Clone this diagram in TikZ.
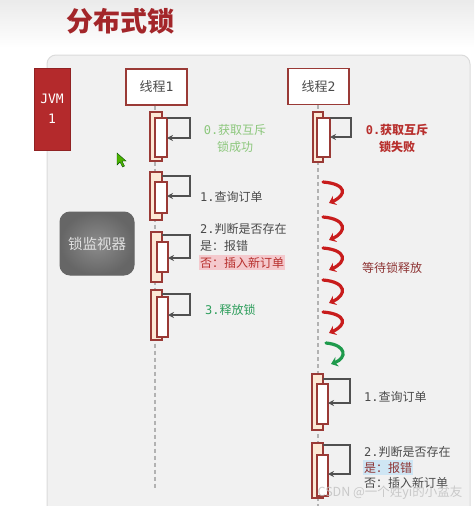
\documentclass[tikz,border=0pt]{standalone}
\usepackage{fontspec}
\setmainfont{Noto Sans CJK SC}
\newfontfamily\mono{DejaVu Sans Mono}
\usetikzlibrary{arrows.meta,calc}
\definecolor{titlered}{HTML}{A3262A}
\definecolor{jvmred}{HTML}{B42A2C}
\definecolor{boxred}{HTML}{9A3A36}
\definecolor{peach}{HTML}{FCE9D6}
\definecolor{panel}{HTML}{F1F1F1}
\definecolor{txtgray}{HTML}{4A4A4A}
\definecolor{lightgreen}{HTML}{8CC77C}
\definecolor{midgreen}{HTML}{2E9E5C}
\definecolor{failred}{HTML}{B8302E}
\definecolor{waitred}{HTML}{8E3434}
\definecolor{arrred}{HTML}{C81C1C}
\definecolor{arrgreen}{HTML}{1E9A4C}
\definecolor{pinkbg}{HTML}{F4C9CD}
\definecolor{bluebg}{HTML}{CFE6F4}
\definecolor{loopgray}{HTML}{505050}
\begin{document}
\begin{tikzpicture}[x=1pt,y=-1pt,
  threadbox/.style={draw=boxred,line width=1.3pt,fill=white,minimum width=61pt,minimum height=36pt,inner sep=0pt,font=\fontsize{13}{15}\selectfont,text=txtgray},
  outerbar/.style={draw=boxred,line width=1.1pt,fill=peach,inner sep=0pt,outer sep=0pt},
  innerbar/.style={draw=boxred,line width=1.1pt,fill=white,inner sep=0pt,outer sep=0pt},
  selfarr/.style={draw=loopgray,line width=1.1pt,-{Stealth[length=6pt,width=6pt]}},
  lifeline/.style={draw=black!30,line width=1.2pt,dash pattern=on 4pt off 3pt},
  lbl/.style={inner sep=0pt,font=\fontsize{12}{17}\selectfont,text=txtgray},
  waitarr/.style={line width=3.2pt,line cap=round,-{Stealth[length=6.5pt,width=10pt]}}
]
\useasboundingbox (0,0) rectangle (474,506);
\clip (0,0) rectangle (474,506);
% background
\fill[white] (0,0) rectangle (474,506);
\shade[top color=black!8,bottom color=white] (0,0) rectangle (474,48);
\filldraw[fill=panel,draw=black!14,line width=1pt,rounded corners=9pt] (47,55) rectangle (470,530);
% title
\node[font=\fontsize{27}{30}\selectfont\bfseries,text=titlered] (title) at (120,21) {分布式锁};
% JVM box
\node[draw=jvmred!80!black,fill=jvmred,minimum width=36pt,minimum height=82pt,inner sep=0pt,align=center,text=white,font=\mono\fontsize{13}{20}\selectfont] (jvm) at (52,109) {JVM\\1};
% lock monitor
\node[draw=black!60,line width=1pt,rounded corners=10pt,inner color=black!45,outer color=black!60,minimum width=74pt,minimum height=63pt,text=black!12,font=\fontsize{14.5}{16}\selectfont] (monitor) at (97,243.5) {锁监视器};
% cursor
\filldraw[fill=green!40!olive,draw=green!30!black,line width=0.4pt] (117,153) -- (117,165) -- (120,162) -- (122.5,167) -- (124.5,166) -- (122,161) -- (126,161) -- cycle;
% thread boxes
\node[threadbox] (t1) at (156.5,87) {线程{\mono 1}};
\node[threadbox] (t2) at (318.5,86.5) {线程{\mono 2}};
% lifelines
\coordinate (end1) at (155,488);
\coordinate (end2) at (318,510);
\draw[lifeline] (t1.south -| 155,0) -- (end1);
\draw[lifeline] (t2.south -| 318,0) -- (end2);
% thread 1 activation bars
\node[outerbar,minimum width=12pt,minimum height=49pt] (oA) at (156,136.5) {};
\node[innerbar,minimum width=12pt,minimum height=39pt] (iA) at (161,137.5) {};
\node[outerbar,minimum width=12pt,minimum height=48pt] (oB) at (156,196) {};
\node[innerbar,minimum width=12pt,minimum height=31pt] (iB) at (161,197.5) {};
\node[outerbar,minimum width=11pt,minimum height=50pt] (oC) at (156.5,257) {};
\node[innerbar,minimum width=11pt,minimum height=30pt] (iC) at (162.5,257) {};
\node[outerbar,minimum width=11pt,minimum height=50pt] (oD) at (156.5,315) {};
\node[innerbar,minimum width=11pt,minimum height=40pt] (iD) at (162.5,317) {};
% thread 2 activation bars
\node[outerbar,minimum width=10pt,minimum height=50pt] (oA2) at (318,137) {};
\node[innerbar,minimum width=13pt,minimum height=39pt] (iA2) at (323.5,137.5) {};
\node[outerbar,minimum width=11pt,minimum height=56pt] (oB2) at (317.5,402) {};
\node[innerbar,minimum width=11pt,minimum height=40pt] (iB2) at (322.5,404) {};
\node[outerbar,minimum width=11pt,minimum height=55pt] (oC2) at (317.5,470.5) {};
\node[innerbar,minimum width=11pt,minimum height=41pt] (iC2) at (322.5,475.5) {};
% self calls
\draw[selfarr] (iA.north east) -- (190,118) -- (190,138) -- (iA.east |- 0,138);
\draw[selfarr] (oB.east |- 0,176) -- (190,176) -- (190,196) -- (iB.east |- 0,196);
\draw[selfarr] (oC.east |- 0,235) -- (190,235) -- (190,258) -- (iC.east |- 0,258);
\draw[selfarr] (oD.east |- 0,294) -- (190,294) -- (190,315) -- (iD.east |- 0,315);
\draw[selfarr] (iA2.north east) -- (351,118) -- (351,137) -- (iA2.east |- 0,137);
\draw[selfarr] (oB2.east |- 0,379) -- (350,379) -- (350,403) -- (iB2.east |- 0,403);
\draw[selfarr] (oC2.east |- 0,445) -- (350,445) -- (350,474) -- (iC2.east |- 0,474);
% thread 1 labels
\node[lbl,text=lightgreen,align=center] (l0) at (235,138) {{\mono 0.}获取互斥\\锁成功};
\node[lbl,anchor=west] (l1) at (200,197) {{\mono 1.}查询订单};
\node[lbl,anchor=west] (l2a) at (200,229) {{\mono 2.}判断是否存在};
\node[lbl,anchor=west] (l2b) at (200,246) {是：报错};
\node[lbl,anchor=west,fill=pinkbg,text=failred,inner xsep=1pt,inner ysep=1.5pt] (l2c) at (199,262.5) {否：插入新订单};
\node[lbl,anchor=west,text=midgreen] (l3) at (205,310) {{\mono 3.}释放锁};
% thread 2 labels
\node[lbl,text=failred,align=center,font=\fontsize{12}{17}\selectfont\bfseries] (m0) at (397,138) {{\mono\bfseries 0.}获取互斥\\锁失败};
\node[lbl,text=waitred] (wait) at (392,268) {等待锁释放};
\node[lbl,anchor=west] (m1) at (364,397) {{\mono 1.}查询订单};
\node[lbl,anchor=west] (m2a) at (364,452) {{\mono 2.}判断是否存在};
\node[lbl,anchor=west,fill=bluebg,text=waitred,inner xsep=1pt,inner ysep=1.5pt] (m2b) at (363,467.5) {是：报错};
\node[lbl,anchor=west] (m2c) at (364,483) {否：插入新订单};
% waiting arrows
\foreach \ya/\yb in {182/203,217/240,248/270,280/303,312/333}{
  \draw[waitarr,draw=arrred] (323,\ya) .. controls (347,{\ya+2}) and (347,{\yb-8}) .. (329,\yb);
}
\draw[waitarr,draw=arrgreen] (326,343) .. controls (347,345) and (347,358) .. (331,364);
% watermark
\node[inner sep=0pt,text=black!25,opacity=0.8,font=\fontsize{12.5}{14}\selectfont] (wm) at (390,493) {CSDN @一个姓yi的小盆友};
\end{tikzpicture}
\end{document}
